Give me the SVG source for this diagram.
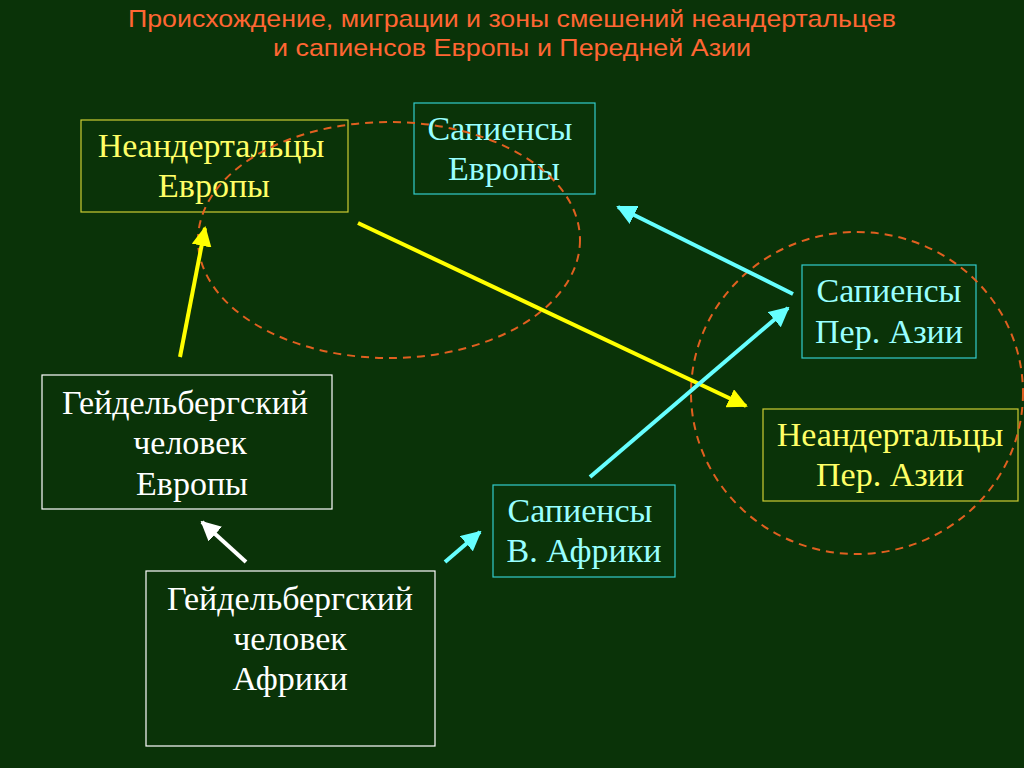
<svg xmlns="http://www.w3.org/2000/svg" width="1024" height="768" viewBox="0 0 1024 768">
<defs>
<style>
.t{font-family:"Liberation Serif",serif;font-size:34px;text-anchor:middle}
.y{fill:#ffff66}.c{fill:#99ffff}.w{fill:#ffffff}
.by{fill:none;stroke:#cccc33;stroke-width:1.2}
.bc{fill:none;stroke:#33cccc;stroke-width:1.2}
.bw{fill:none;stroke:#ffffff;stroke-width:1.2}
.ell{fill:none;stroke:#e06020;stroke-width:2;stroke-dasharray:8,6}
</style>
<marker id="ay" viewBox="0 0 10 10" refX="9" refY="5" markerWidth="5" markerHeight="5" orient="auto"><path d="M0,0L10,5L0,10z" fill="#ffff00"/></marker>
<marker id="ac" viewBox="0 0 10 10" refX="9" refY="5" markerWidth="5" markerHeight="5" orient="auto"><path d="M0,0L10,5L0,10z" fill="#66ffff"/></marker>
<marker id="aw" viewBox="0 0 10 10" refX="9" refY="5" markerWidth="5" markerHeight="5" orient="auto"><path d="M0,0L10,5L0,10z" fill="#ffffff"/></marker>
</defs>
<rect width="1024" height="768" fill="#0a3308"/>
<text x="512" y="27" font-family="Liberation Sans,sans-serif" font-size="24" fill="#ff6633" text-anchor="middle" textLength="768" lengthAdjust="spacingAndGlyphs">Происхождение, миграции и зоны смешений неандертальцев</text>
<text x="512" y="56" font-family="Liberation Sans,sans-serif" font-size="24" fill="#ff6633" text-anchor="middle" textLength="478" lengthAdjust="spacingAndGlyphs">и сапиенсов Европы и Передней Азии</text>
<g id="n1"><rect class="by" x="81" y="120" width="267" height="92"/><text class="t y" x="211" y="157">Неандертальцы</text><text class="t y" x="214" y="197">Европы</text></g>
<g id="n2"><rect class="bc" x="414" y="103" width="181" height="91"/><text class="t c" x="500" y="140">Сапиенсы</text><text class="t c" x="504" y="180">Европы</text></g>
<g id="n3"><rect class="bc" x="802" y="265" width="174" height="93"/><text class="t c" x="889" y="302">Сапиенсы</text><text class="t c" x="889" y="343">Пер. Азии</text></g>
<g id="n4"><rect class="by" x="763" y="409" width="255" height="92"/><text class="t y" x="890" y="446">Неандертальцы</text><text class="t y" x="890" y="486">Пер. Азии</text></g>
<g id="n5"><rect class="bw" x="42" y="375" width="290" height="134"/><text class="t w" x="185" y="414">Гейдельбергский</text><text class="t w" x="190" y="454">человек</text><text class="t w" x="192" y="495">Европы</text></g>
<g id="n6"><rect class="bc" x="493" y="485" width="182" height="92"/><text class="t c" x="580" y="522">Сапиенсы</text><text class="t c" x="584" y="562">В. Африки</text></g>
<g id="n7"><rect class="bw" x="146" y="571" width="289" height="175"/><text class="t w" x="290" y="610">Гейдельбергский</text><text class="t w" x="290" y="650">человек</text><text class="t w" x="290" y="690">Африки</text></g>
<ellipse class="ell" cx="389" cy="240" rx="191" ry="118"/>
<ellipse class="ell" cx="857" cy="393" rx="166" ry="161"/>
<g id="connectors" stroke-width="4">
<line x1="180" y1="357" x2="205" y2="228" stroke="#ffff00" marker-end="url(#ay)"/>
<line x1="358" y1="223" x2="746" y2="406" stroke="#ffff00" marker-end="url(#ay)"/>
<line x1="793" y1="294" x2="618" y2="207" stroke="#66ffff" marker-end="url(#ac)"/>
<line x1="590" y1="477" x2="788" y2="308" stroke="#66ffff" marker-end="url(#ac)"/>
<line x1="445" y1="562" x2="480" y2="532" stroke="#66ffff" marker-end="url(#ac)"/>
<line x1="246" y1="562" x2="202" y2="522" stroke="#ffffff" marker-end="url(#aw)"/>
</g>
</svg>
